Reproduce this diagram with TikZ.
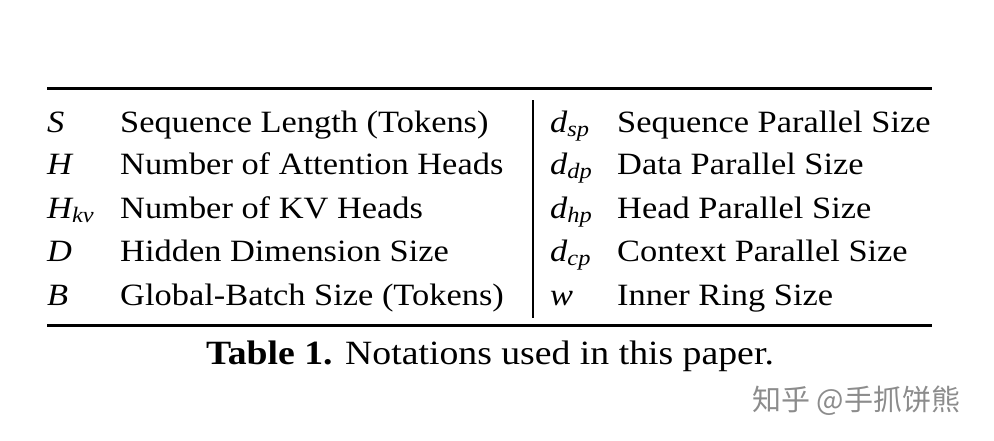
\documentclass[tikz,border=0pt]{standalone}
\usepackage{fontspec}
\setmainfont[FakeStretch=1.11]{Liberation Serif}
\newfontfamily\cjk{Noto Sans CJK SC}
\newcommand\sub[2]{{\itshape #1\raisebox{-0.3ex}{\fontsize{22}{24}\selectfont #2}}}
\begin{document}
\begin{tikzpicture}[x=1pt,y=-1pt,
  txt/.style={anchor=base west,inner sep=0pt,font=\fontsize{31}{36}\selectfont},
  rule/.style={line width=3pt}]
\useasboundingbox (0,0) rectangle (994,440);
\draw[rule] (47,88) coordinate (tl) -- (932,88) coordinate (tr);
\draw[rule] (47,325) coordinate (bl) -- (932,325) coordinate (br);
\draw[line width=1.2pt] (533,100) coordinate (vt) -- (533,318) coordinate (vb);
\foreach \i/\y/\s/\d/\r/\e in {
 1/132/\sub{S}{}/Sequence Length (Tokens)/\sub{d}{sp}/Sequence Parallel Size,
 2/174/\sub{H}{}/Number of Attention Heads/\sub{d}{dp}/Data Parallel Size,
 3/218/\sub{H}{kv}/Number of KV Heads/\sub{d}{hp}/Head Parallel Size,
 4/261/\sub{D}{}/Hidden Dimension Size/\sub{d}{cp}/Context Parallel Size,
 5/305/\sub{B}{}/Global-Batch Size (Tokens)/\sub{w}{}/Inner Ring Size}{
 \node[txt] (ls\i) at (47,\y) {\s};
 \node[txt] (ld\i) at (120,\y) {\d};
 \node[txt] (rs\i) at (550,\y) {\r};
 \node[txt] (rd\i) at (617,\y) {\e};
}
\node[txt,anchor=base,font=\fontsize{34}{40}\selectfont] (cap) at (490,364) {\textbf{Table 1.} Notations used in this paper.};
\node[anchor=base west,inner sep=0pt,font=\cjk\fontsize{29}{34}\selectfont,text=black!45] (wm) at (752,410) {知乎 @手抓饼熊};
\end{tikzpicture}
\end{document}
